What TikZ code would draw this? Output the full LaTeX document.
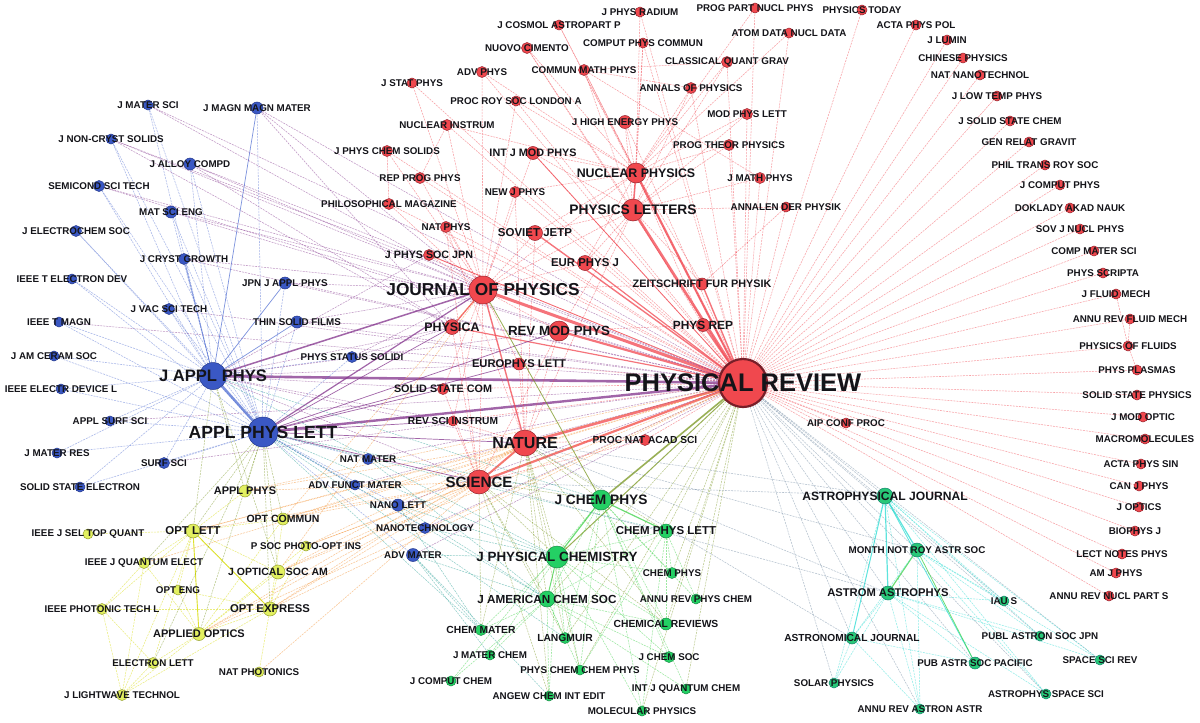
\documentclass[tikz,border=0pt]{standalone}
\usepackage{fontspec}
\setmainfont{Liberation Sans}
\usetikzlibrary{backgrounds}
\definecolor{nodeRed}{RGB}{240,72,78}
\definecolor{nodeRedD}{RGB}{150,35,45}
\definecolor{prBorder}{RGB}{120,30,40}
\definecolor{nodeBlue}{RGB}{58,88,196}
\definecolor{nodeBlueD}{RGB}{35,55,140}
\definecolor{nodeGreen}{RGB}{36,208,100}
\definecolor{nodeGreenD}{RGB}{25,140,70}
\definecolor{nodeYel}{RGB}{226,240,96}
\definecolor{nodeYelD}{RGB}{150,160,50}
\definecolor{nodeAst}{RGB}{40,200,120}
\definecolor{nodeAstD}{RGB}{20,130,110}
\definecolor{edgeRed}{RGB}{242,70,80}
\definecolor{edgePur}{RGB}{130,50,140}
\definecolor{edgeOli}{RGB}{120,150,30}
\definecolor{edgeTeal}{RGB}{40,160,150}
\definecolor{edgeOra}{RGB}{245,145,50}
\definecolor{edgeYel}{RGB}{215,220,0}
\definecolor{edgeCya}{RGB}{40,220,210}
\definecolor{edgeGry}{RGB}{110,135,160}
\definecolor{edgeBlu}{RGB}{80,110,210}
\definecolor{edgeGrn}{RGB}{60,210,70}
\definecolor{labText}{RGB}{20,20,25}

\begin{document}
\begin{tikzpicture}[
        x=1pt, y=-1pt,
        rj/.style={circle, inner sep=0pt, minimum size=#1, fill=nodeRed, draw=nodeRedD, line width=0.5},
        rj/.default=10,
        bj/.style={circle, inner sep=0pt, minimum size=#1, fill=nodeBlue, draw=nodeBlueD, line width=0.5},
        bj/.default=10,
        gj/.style={circle, inner sep=0pt, minimum size=#1, fill=nodeGreen, draw=nodeGreenD, line width=0.5},
        gj/.default=10,
        yj/.style={circle, inner sep=0pt, minimum size=#1, fill=nodeYel, draw=nodeYelD, line width=0.5},
        yj/.default=10,
        aj/.style={circle, inner sep=0pt, minimum size=#1, fill=nodeAst, draw=nodeAstD, line width=0.5},
        aj/.default=10,
        every label/.style={font=\bfseries\fontsize{9.8}{10}\selectfont, text=labText, inner sep=0pt},
        fs/.style={font=\bfseries\fontsize{#1}{#1}\selectfont},
        thin edge/.style={line width=0.55, dash pattern=on 2pt off 1pt, opacity=0.5},
        bold edge/.style={line width=#1, opacity=0.75},
        bold edge/.default=1.5
    ]
    \useasboundingbox (0,0) rectangle (1200,723);

    % blue cluster
    \node[bj, label=center:J MATER SCI] (jmatersci) at (148,105) {};
    \node[bj=12, label=center:J MAGN MAGN MATER] (jmagn) at (257,108) {};
    \node[bj, label=center:J NON-CRYST SOLIDS] (jnoncryst) at (111,139) {};
    \node[bj=12, label=center:J ALLOY COMPD] (jalloy) at (190,164) {};
    \node[bj=11, label=center:SEMICOND SCI TECH] (semicond) at (99,186) {};
    \node[bj=12, label=center:MAT SCI ENG] (matscieng) at (171,212) {};
    \node[bj=11, label=center:J ELECTROCHEM SOC] (jelectrochem) at (76,231) {};
    \node[bj=11, label=center:J CRYST GROWTH] (jcryst) at (184,259) {};
    \node[bj, label=center:IEEE T ELECTRON DEV] (ieeeted) at (72,279) {};
    \node[bj=12, label=center:JPN J APPL PHYS] (jpnjap) at (285,283) {};
    \node[bj=11, label=center:J VAC SCI TECH] (jvac) at (169,309) {};
    \node[bj, label=center:IEEE T MAGN] (ieeetmagn) at (59,322) {};
    \node[bj=12, label=center:THIN SOLID FILMS] (thinfilms) at (297,322) {};
    \node[bj, label=center:J AM CERAM SOC] (jamceram) at (54,356) {};
    \node[bj=11, label=center:PHYS STATUS SOLIDI] (physstat) at (352,357) {};
    \node[bj=27, label={[fs=16.6]center:J APPL PHYS}] (jap) at (213,376) {};
    \node[bj, label=center:IEEE ELECTR DEVICE L] (ieeeedl) at (61,389) {};
    \node[bj, label=center:APPL SURF SCI] (applsurf) at (110,421) {};
    \node[bj=30, label={[fs=17.6]center:APPL PHYS LETT}] (apl) at (263,432) {};
    \node[bj, label=center:J MATER RES] (jmaterres) at (57,453) {};
    \node[bj=11, label=center:SURF SCI] (surfsci) at (164,463) {};
    \node[bj, label=center:SOLID STATE ELECTRON] (sselectron) at (80,487) {};
    \node[bj=11, label=center:NAT MATER] (natmater) at (368,459) {};
    \node[bj=10, label=center:ADV FUNCT MATER] (advfunct) at (355,485) {};
    \node[bj=12, label=center:NANO LETT] (nanolett) at (398,505) {};
    \node[bj=11, label=center:NANOTECHNOLOGY] (nanotech) at (425,528) {};
    \node[bj=13, label=center:ADV MATER] (advmater) at (413,555) {};

    % red cluster, right column
    \node[rj, label=center:PHYSICS TODAY] (physicstoday) at (862,10) {};
    \node[rj, label=center:ACTA PHYS POL] (actaphyspol) at (916,25) {};
    \node[rj, label=center:J LUMIN] (jlumin) at (947,40) {};
    \node[rj, label=center:CHINESE PHYSICS] (chinesephys) at (963,58) {};
    \node[rj, label=center:NAT NANOTECHNOL] (natnanotech) at (980,75) {};
    \node[rj, label=center:J LOW TEMP PHYS] (jlowtemp) at (997,96) {};
    \node[rj, label=center:J SOLID STATE CHEM] (jsolidchem) at (1010,121) {};
    \node[rj, label=center:GEN RELAT GRAVIT] (genrelat) at (1029,142) {};
    \node[rj, label=center:PHIL TRANS ROY SOC] (philtrans) at (1045,165) {};
    \node[rj, label=center:J COMPUT PHYS] (jcomputphys) at (1060,185) {};
    \node[rj, label=center:DOKLADY AKAD NAUK] (doklady) at (1070,208) {};
    \node[rj, label=center:SOV J NUCL PHYS] (sovjnucl) at (1080,229) {};
    \node[rj, label=center:COMP MATER SCI] (compmater) at (1094,251) {};
    \node[rj, label=center:PHYS SCRIPTA] (physscripta) at (1103,273) {};
    \node[rj, label=center:J FLUID MECH] (jfluid) at (1116,294) {};
    \node[rj, label=center:ANNU REV FLUID MECH] (annufluid) at (1130,319) {};
    \node[rj, label=center:PHYSICS OF FLUIDS] (physfluids) at (1128,346) {};
    \node[rj, label=center:PHYS PLASMAS] (physplasmas) at (1137,370) {};
    \node[rj, label=center:SOLID STATE PHYSICS] (ssphysics) at (1137,395) {};
    \node[rj, label=center:J MOD OPTIC] (jmodoptic) at (1143,417) {};
    \node[rj, label=center:MACROMOLECULES] (macromol) at (1145,439) {};
    \node[rj, label=center:ACTA PHYS SIN] (actaphyssin) at (1141,464) {};
    \node[rj, label=center:CAN J PHYS] (canjphys) at (1139,486) {};
    \node[rj, label=center:J OPTICS] (joptics) at (1139,507) {};
    \node[rj, label=center:BIOPHYS J] (biophysj) at (1135,531) {};
    \node[rj, label=center:LECT NOTES PHYS] (lectnotes) at (1122,554) {};
    \node[rj, label=center:AM J PHYS] (amjphys) at (1116,573) {};
    \node[rj, label=center:ANNU REV NUCL PART S] (annunucl) at (1109,596) {};
    \node[rj, label=center:AIP CONF PROC] (aipconf) at (846,423) {};

    % red cluster, top and centre
    \node[rj, label=center:J PHYS RADIUM] (jphysradium) at (640,12) {};
    \node[rj, label=center:PROG PART NUCL PHYS] (progpartnucl) at (755,8) {};
    \node[rj, label=center:J COSMOL ASTROPART P] (jcosmol) at (559,25) {};
    \node[rj, label=center:ATOM DATA NUCL DATA] (atomdata) at (789,33) {};
    \node[rj, label=center:COMPUT PHYS COMMUN] (computphys) at (643,43) {};
    \node[rj=11, label=center:NUOVO CIMENTO] (nuovo) at (527,48) {};
    \node[rj=11, label=center:CLASSICAL QUANT GRAV] (classical) at (727,62) {};
    \node[rj=11, label=center:COMMUN MATH PHYS] (communmath) at (584,70) {};
    \node[rj=11, label=center:ADV PHYS] (advphys) at (482,72) {};
    \node[rj, label=center:J STAT PHYS] (jstatphys) at (412,83) {};
    \node[rj=11, label=center:ANNALS OF PHYSICS] (annalsphys) at (691,88) {};
    \node[rj, label=center:PROC ROY SOC LONDON A] (procroysoc) at (516,101) {};
    \node[rj=11, label=center:MOD PHYS LETT] (modphyslett) at (747,114) {};
    \node[rj=13, label=center:J HIGH ENERGY PHYS] (jhighenergy) at (625,122) {};
    \node[rj=11, label=center:NUCLEAR INSTRUM] (nuclinstrum) at (447,125) {};
    \node[rj=11, label=center:PROG THEOR PHYSICS] (progtheor) at (729,145) {};
    \node[rj=11, label=center:J PHYS CHEM SOLIDS] (jphyschemsol) at (387,151) {};
    \node[rj=13, label={[fs=10.8]center:INT J MOD PHYS}] (intjmod) at (533,153) {};
    \node[rj=20, label={[fs=12.4]center:NUCLEAR PHYSICS}] (nuclphys) at (636,173) {};
    \node[rj=11, label=center:J MATH PHYS] (jmathphys) at (760,178) {};
    \node[rj=11, label=center:REP PROG PHYS] (repprog) at (420,178) {};
    \node[rj=11, label=center:NEW J PHYS] (newjphys) at (515,192) {};
    \node[rj=22, label={[fs=13.8]center:PHYSICS LETTERS}] (physlett) at (633,210) {};
    \node[rj, label=center:ANNALEN DER PHYSIK] (annalender) at (786,207) {};
    \node[rj=11, label=center:PHILOSOPHICAL MAGAZINE] (philmag) at (389,204) {};
    \node[rj=11, label=center:NAT PHYS] (natphys) at (446,227) {};
    \node[rj=15, label={[fs=11.5]center:SOVIET JETP}] (sovietjetp) at (535,233) {};
    \node[rj=11, label={[fs=10.7]center:J PHYS SOC JPN}] (jphyssocjpn) at (429,255) {};
    \node[rj=15, label={[fs=11.4]center:EUR PHYS J}] (eurphysj) at (585,263) {};
    \node[rj=12, label={[fs=10.8]center:ZEITSCHRIFT FUR PHYSIK}] (zeitschrift) at (702,284) {};
    \node[rj=28, label={[fs=17.3]center:JOURNAL OF PHYSICS}] (jphys) at (483,290) {};
    \node[rj=13, label={[fs=11.9]center:PHYS REP}] (physrep) at (703,325) {};
    \node[rj=15, label={[fs=12.4]center:PHYSICA}] (physica) at (452,327) {};
    \node[rj=20, label={[fs=13.3]center:REV MOD PHYS}] (revmod) at (559,331) {};
    \node[rj=12, label={[fs=11.2]center:EUROPHYS LETT}] (europhys) at (519,364) {};
    \node[rj=11, label={[fs=10.8]center:SOLID STATE COM}] (solidstatecom) at (443,389) {};
    \node[rj=10, label={[fs=10.2]center:REV SCI INSTRUM}] (revsci) at (453,421) {};
    \node[rj=11, label={[fs=10.2]center:PROC NAT ACAD SCI}] (procnat) at (645,440) {};
    \node[rj=26, label={[fs=16]center:NATURE}] (nature) at (525,443) {};
    \node[rj=24, label={[fs=15]center:SCIENCE}] (science) at (479,482) {};
    \node[rj=48, line width=2.2, draw=prBorder, label={[fs=25.5]center:PHYSICAL REVIEW}] (pr) at (743,383) {};

    % chemistry cluster
    \node[gj=20, label={[fs=13.7]center:J CHEM PHYS}] (jchemphys) at (601,500) {};
    \node[gj=14, label={[fs=11.5]center:CHEM PHYS LETT}] (chemphyslett) at (666,531) {};
    \node[gj=22, label={[fs=13.4]center:J PHYSICAL CHEMISTRY}] (jphyschem) at (557,557) {};
    \node[gj=11, label=center:CHEM PHYS] (chemphys) at (672,573) {};
    \node[gj=16, label={[fs=11.7]center:J AMERICAN CHEM SOC}] (jacs) at (547,599) {};
    \node[gj, label=center:ANNU REV PHYS CHEM] (annurevphyschem) at (696,599) {};
    \node[gj=12, label={[fs=10.3]center:CHEMICAL REVIEWS}] (chemrev) at (666,624) {};
    \node[gj=11, label={[fs=10.3]center:CHEM MATER}] (chemmater) at (481,630) {};
    \node[gj=11, label={[fs=10.3]center:LANGMUIR}] (langmuir) at (565,638) {};
    \node[gj, label=center:J MATER CHEM] (jmaterchem) at (490,655) {};
    \node[gj=11, label=center:J CHEM SOC] (jchemsoc) at (669,657) {};
    \node[gj, label=center:PHYS CHEM CHEM PHYS] (pccp) at (580,670) {};
    \node[gj, label=center:J COMPUT CHEM] (jcomputchem) at (451,681) {};
    \node[gj, label=center:INT J QUANTUM CHEM] (intjqchem) at (686,689) {};
    \node[gj, label=center:ANGEW CHEM INT EDIT] (angew) at (549,696) {};
    \node[gj, label=center:MOLECULAR PHYSICS] (molphys) at (642,711) {};

    % astronomy cluster
    \node[aj=16, label={[fs=12.1]center:ASTROPHYSICAL JOURNAL}] (apj) at (885,496) {};
    \node[aj=14, label=center:MONTH NOT ROY ASTR SOC] (mnras) at (917,550) {};
    \node[aj=14, label={[fs=11.2]center:ASTROM ASTROPHYS}] (astroastro) at (888,593) {};
    \node[aj, label=center:IAU S] (iaus) at (1004,601) {};
    \node[aj=12, label={[fs=10.2]center:ASTRONOMICAL JOURNAL}] (astronj) at (852,638) {};
    \node[aj, label=center:PUBL ASTRON SOC JPN] (publjpn) at (1040,636) {};
    \node[aj=12, label=center:PUB ASTR SOC PACIFIC] (pasp) at (975,663) {};
    \node[aj, label=center:SPACE SCI REV] (spacescirev) at (1100,660) {};
    \node[aj, label=center:SOLAR PHYSICS] (solarphys) at (834,683) {};
    \node[aj, label=center:ASTROPHYS SPACE SCI] (apss) at (1046,694) {};
    \node[aj, label=center:ANNU REV ASTRON ASTR] (annurevastro) at (920,709) {};

    % optics cluster
    \node[yj=12, label={[fs=11]center:APPL PHYS}] (applphys) at (245,491) {};
    \node[yj=12, label={[fs=10.5]center:OPT COMMUN}] (optcommun) at (283,519) {};
    \node[yj=14, label={[fs=11.4]center:OPT LETT}] (optlett) at (193,531) {};
    \node[yj, label=center:IEEE J SEL TOP QUANT] (ieeejsel) at (88,534) {};
    \node[yj, label=center:P SOC PHOTO-OPT INS] (psoc) at (306,546) {};
    \node[yj=11, label=center:IEEE J QUANTUM ELECT] (ieeejqe) at (144,563) {};
    \node[yj=14, label={[fs=10.5]center:J OPTICAL SOC AM}] (josa) at (278,572) {};
    \node[yj, label=center:OPT ENG] (opteng) at (178,590) {};
    \node[yj=11, label=center:IEEE PHOTONIC TECH L] (ieeeptl) at (102,609) {};
    \node[yj=14, label={[fs=11.3]center:OPT EXPRESS}] (optexpress) at (270,609) {};
    \node[yj=13, label={[fs=11]center:APPLIED OPTICS}] (appliedoptics) at (199,634) {};
    \node[yj=11, label=center:ELECTRON LETT] (electronlett) at (153,663) {};
    \node[yj, label=center:NAT PHOTONICS] (natphotonics) at (259,672) {};
    \node[yj=11, label=center:J LIGHTWAVE TECHNOL] (jlightwave) at (122,695) {};

    \begin{scope}[on background layer]
        \fill[white] (0,0) rectangle (1200,723);

        % physical review to the physics journals
        \foreach \j in {jphysradium, jcosmol, progpartnucl, physicstoday, actaphyspol, jlumin, chinesephys, natnanotech, jlowtemp, jsolidchem, genrelat, philtrans, jcomputphys, doklady, sovjnucl, compmater, physscripta, jfluid, annufluid, physfluids, physplasmas, ssphysics, jmodoptic, macromol, actaphyssin, canjphys, joptics, biophysj, lectnotes, amjphys, annunucl, aipconf, nuovo, computphys, advphys, communmath, classical, atomdata, jstatphys, annalsphys, procroysoc, modphyslett, jhighenergy, nuclinstrum, progtheor, jphyschemsol, intjmod, jmathphys, repprog, newjphys, annalender, philmag, natphys, jphyssocjpn, europhys, solidstatecom, revsci, procnat}
            \draw[thin edge, edgeRed] (pr) -- (\j);
        \foreach \j/\w in {jphys/3, nature/2.6, science/2.2, physlett/2.6, nuclphys/2.2, revmod/2.2, physrep/1.6, zeitschrift/1.4, sovietjetp/1.4, eurphysj/1.2, physica/1.2, intjmod/0.8, jphyssocjpn/0.8}
            \draw[bold edge=\w, edgeRed] (pr) -- (\j);
        \draw[thin edge, edgeRed] (jfluid) -- (physfluids);
        \draw[thin edge, edgeRed] (annufluid) -- (physfluids);
        \draw[thin edge, edgeRed] (physfluids) -- (physplasmas);

        % physical review to the other clusters
        \draw[bold edge=2.6, edgePur] (pr) -- (jap);
        \draw[bold edge=2.4, edgePur] (pr) -- (apl);
        \foreach \j in {jpnjap, thinfilms, physstat, jmagn, jcryst, jvac, surfsci, natmater, nanolett, advmater, jalloy, matscieng, semicond, jnoncryst, jmatersci, ieeetmagn, applsurf, advfunct, nanotech}
            \draw[thin edge, edgePur] (pr) -- (\j);
        \draw[bold edge=1.6, edgeOli] (pr) -- (jchemphys);
        \draw[bold edge=1, edgeOli] (pr) -- (jphyschem);
        \foreach \j in {chemphyslett, jacs, chemphys, chemrev, molphys, intjqchem, annurevphyschem, pccp, langmuir}
            \draw[thin edge, edgeOli] (pr) -- (\j);
        \foreach \j in {apj, mnras, astroastro, astronj, pasp, iaus, publjpn, spacescirev, apss, annurevastro, solarphys}
            \draw[thin edge, edgeGry] (pr) -- (\j);
        \foreach \j in {optlett, josa, optexpress, appliedoptics, applphys, optcommun, ieeejqe, psoc}
            \draw[thin edge, edgeOra] (pr) -- (\j);

        % applied physics
        \draw[bold edge=2.5, edgeBlu] (jap) -- (apl);
        \foreach \j in {jmatersci, jnoncryst, jalloy, semicond, matscieng, jelectrochem, ieeeted, jvac, ieeetmagn, jamceram, physstat, ieeeedl, applsurf, jmaterres, surfsci, sselectron}
            \draw[thin edge, edgeBlu] (jap) -- (\j);
        \foreach \j in {jmagn, jpnjap, thinfilms, jcryst}
            \draw[bold edge=0.7, edgeBlu] (jap) -- (\j);
        \foreach \j in {jmatersci, jmagn, jalloy, matscieng, jelectrochem, jcryst, ieeeted, jpnjap, jvac, ieeetmagn, thinfilms, jamceram, physstat, ieeeedl, applsurf, jmaterres, surfsci, sselectron, natmater, nanolett, nanotech, advmater, advfunct, semicond, jnoncryst}
            \draw[thin edge, edgeBlu] (apl) -- (\j);
        \draw[bold edge=1.5, edgePur] (jap) -- (jphys);
        \draw[bold edge=1.2, edgePur] (apl) -- (jphys);
        \foreach \j in {physica, solidstatecom, nature, science, jphyssocjpn, revsci, europhys, revmod}
            \draw[thin edge, edgePur] (jap) -- (\j);
        \foreach \j in {physica, solidstatecom, nature, science, revsci, europhys, revmod}
            \draw[bold edge=0.7, edgePur] (apl) -- (\j);
        \foreach \j in {jmagn, jalloy, matscieng, jmatersci, jnoncryst, semicond, jcryst, thinfilms, physstat, jpnjap}
            \draw[thin edge, edgePur] (jphys) -- (\j);
        \foreach \j in {jmagn, jalloy, jnoncryst, physstat, thinfilms}
            \draw[thin edge, edgePur] (physica) -- (\j);

        % physics journals among themselves
        \foreach \j in {science, physica, revmod, philmag, jphyschemsol, repprog, natphys, jphyssocjpn, solidstatecom, europhys, revsci, nuclinstrum, jstatphys, sovietjetp, eurphysj, physlett, nuclphys, newjphys, intjmod, procroysoc, zeitschrift, advphys}
            \draw[thin edge, edgeRed] (jphys) -- (\j);
        \draw[bold edge=1.4, edgeRed] (jphys) -- (nature);
        \draw[bold edge=1.2, edgeRed] (jphys) -- (physica);
        \draw[bold edge=2, edgeRed] (nature) -- (science);
        \foreach \j in {revmod, procnat, europhys, natphys, physlett, newjphys, sovietjetp, revsci}
            \draw[thin edge, edgeRed] (nature) -- (\j);
        \foreach \j in {revmod, procnat, natphys, physica, solidstatecom, revsci}
            \draw[thin edge, edgeRed] (science) -- (\j);
        \draw[bold edge=1.5, edgeRed] (nuclphys) -- (physlett);
        \foreach \j in {jhighenergy, intjmod, nuovo, communmath, annalsphys, progtheor, classical, jcosmol, progpartnucl, atomdata, jphysradium, computphys, modphyslett, sovietjetp, eurphysj, zeitschrift, physrep, newjphys, procroysoc, advphys, nuclinstrum}
            \draw[thin edge, edgeRed] (nuclphys) -- (\j);
        \foreach \j in {jhighenergy, intjmod, annalsphys, progtheor, modphyslett, classical, jmathphys, communmath, sovietjetp, eurphysj, physrep, zeitschrift, revmod, nuovo, computphys, annalender}
            \draw[thin edge, edgeRed] (physlett) -- (\j);
        \foreach \j in {jmathphys, classical, annalsphys}
            \draw[thin edge, edgeRed] (communmath) -- (\j);
        \draw[thin edge, edgeRed] (zeitschrift) -- (annalender);
        \draw[thin edge, edgeRed] (revmod) -- (physrep);
        \draw[thin edge, edgeRed] (jphyschemsol) -- (philmag);
        \draw[thin edge, edgeRed] (repprog) -- (nuclinstrum);

        % chemistry
        \draw[bold edge=1.2, edgeGrn] (jchemphys) -- (chemphyslett);
        \draw[bold edge=1.2, edgeGrn] (jchemphys) -- (jphyschem);
        \draw[bold edge=1, edgeGrn] (jphyschem) -- (jacs);
        \foreach \j in {chemphys, jacs, annurevphyschem, chemrev, molphys, intjqchem, jchemsoc, pccp, langmuir, jcomputchem}
            \draw[thin edge, edgeGrn] (jchemphys) -- (\j);
        \foreach \j in {chemphyslett, langmuir, chemmater, pccp, chemrev, angew, jchemsoc, jmaterchem, molphys, chemphys}
            \draw[thin edge, edgeGrn] (jphyschem) -- (\j);
        \foreach \j in {chemmater, langmuir, jmaterchem, angew, chemrev, jchemsoc, pccp, jcomputchem, chemphyslett, intjqchem}
            \draw[thin edge, edgeGrn] (jacs) -- (\j);
        \foreach \j in {chemphys, chemrev, pccp, molphys, annurevphyschem}
            \draw[thin edge, edgeGrn] (chemphyslett) -- (\j);

        % astronomy
        \foreach \j/\w in {mnras/1.2, astroastro/1.2, astronj/1, pasp/0.8}
            \draw[bold edge=\w, edgeCya] (apj) -- (\j);
        \foreach \j in {iaus, publjpn, spacescirev, apss, annurevastro, solarphys}
            \draw[thin edge, edgeCya] (apj) -- (\j);
        \draw[bold edge=1.2, edgeGrn] (mnras) -- (astroastro);
        \draw[bold edge=0.8, edgeGrn] (mnras) -- (pasp);
        \foreach \j in {astronj, iaus, publjpn, spacescirev, apss, annurevastro}
            \draw[thin edge, edgeCya] (mnras) -- (\j);
        \foreach \j in {astronj, pasp, iaus, publjpn, apss, annurevastro, solarphys, spacescirev}
            \draw[thin edge, edgeCya] (astroastro) -- (\j);
        \foreach \j in {pasp, annurevastro, solarphys}
            \draw[thin edge, edgeCya] (astronj) -- (\j);
        \foreach \j in {apj, mnras, astroastro, astronj}
            \draw[thin edge, edgeGry] (nature) -- (\j);
        \foreach \j in {apj, astroastro}
            \draw[thin edge, edgeGry] (science) -- (\j);

        % optics
        \foreach \j in {optexpress, appliedoptics, josa, optcommun, ieeejqe, ieeeptl, ieeejsel, opteng, electronlett, jlightwave, applphys}
            \draw[thin edge, edgeYel] (optlett) -- (\j);
        \draw[bold edge=0.9, edgeYel] (optlett) -- (optexpress);
        \draw[bold edge=0.9, edgeYel] (optlett) -- (appliedoptics);
        \foreach \j in {appliedoptics, josa, optcommun, natphotonics, ieeeptl, jlightwave, psoc, opteng}
            \draw[thin edge, edgeYel] (optexpress) -- (\j);
        \foreach \j in {josa, optcommun, opteng, ieeejqe, electronlett, jlightwave, psoc}
            \draw[thin edge, edgeYel] (appliedoptics) -- (\j);
        \foreach \j in {electronlett, jlightwave, ieeejqe}
            \draw[thin edge, edgeYel] (ieeeptl) -- (\j);
        \draw[thin edge, edgeYel] (electronlett) -- (jlightwave);
        \draw[thin edge, edgeYel] (ieeejqe) -- (jlightwave);

        % links between clusters
        \foreach \j in {optlett, optexpress, josa, appliedoptics, applphys, optcommun, psoc, natphotonics}
            \draw[thin edge, edgeOra] (nature) -- (\j);
        \foreach \j in {optlett, optexpress, josa, appliedoptics, applphys, optcommun, psoc}
            \draw[thin edge, edgeOra] (science) -- (\j);
        \draw[thin edge, edgeOra] (jphys) -- (josa);
        \draw[thin edge, edgeOra] (jphys) -- (optcommun);
        \foreach \j in {jchemphys, jphyschem, jacs, chemrev, chemphyslett, angew, langmuir, chemmater, pccp}
            \draw[thin edge, edgeOli] (nature) -- (\j);
        \foreach \j in {jchemphys, jphyschem, jacs, chemrev, angew, langmuir, chemmater}
            \draw[thin edge, edgeOli] (science) -- (\j);
        \draw[bold edge=0.8, edgeOli] (jphys) -- (jchemphys);
        \foreach \j in {jphyschem, jchemphys, jacs, chemphyslett, langmuir, chemmater}
            \draw[thin edge, edgeTeal] (apl) -- (\j);
        \foreach \j in {jphyschem, jchemphys}
            \draw[thin edge, edgeTeal] (jap) -- (\j);
        \foreach \j in {jacs, chemmater, jphyschem, angew, jmaterchem}
            \draw[thin edge, edgeTeal] (advmater) -- (\j);
        \foreach \j in {jacs, jphyschem, chemmater}
            \draw[thin edge, edgeTeal] (nanolett) -- (\j);
        \draw[thin edge, edgeTeal] (nanotech) -- (jphyschem);
        \draw[thin edge, edgeTeal] (natmater) -- (jacs);
        \foreach \j in {optlett, applphys, optcommun, josa, optexpress, appliedoptics, ieeejqe, electronlett}
            \draw[thin edge, edgeOli] (apl) -- (\j);
        \foreach \j in {optlett, applphys, josa}
            \draw[thin edge, edgeOli] (jap) -- (\j);
    \end{scope}
\end{tikzpicture}
\end{document}
